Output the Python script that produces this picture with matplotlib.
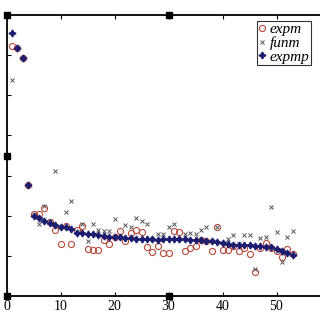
import numpy as np
import matplotlib
matplotlib.use("Agg")
import matplotlib.pyplot as plt

# values (index 1..53)
idx = np.arange(1, 54)

expm = [6.23, 6.17, 5.94, 2.77, 2.05, 2.04, 2.19, 1.85, 1.65, 1.29,
        1.75, 1.29, 1.65, 1.74, 1.18, 1.15, 1.15, 1.40, 1.29, 1.46,
        1.61, 1.36, 1.57, 1.65, 1.59, 1.22, 1.10, 1.25, 1.07, 1.07,
        1.63, 1.60, 1.13, 1.20, 1.25, 1.40, 1.36, 1.11, 1.72, 1.15,
        1.15, 1.25, 1.11, 1.19, 1.04, 0.61, 1.19, 1.32, 1.19, 1.12,
        0.98, 1.16, 1.05]

funm = [5.37, 6.17, 5.94, 2.77, 2.02, 1.79, 2.23, 1.87, 3.12, 1.72,
        2.09, 2.36, 1.60, 1.80, 1.37, 1.80, 1.65, 1.61, 1.61, 1.92,
        1.47, 1.76, 1.71, 1.94, 1.88, 1.79, 1.42, 1.54, 1.54, 1.72,
        1.80, 1.42, 1.54, 1.57, 1.54, 1.65, 1.71, 1.37, 1.72, 1.33,
        1.43, 1.52, 1.29, 1.53, 1.53, 0.67, 1.44, 1.46, 2.21, 1.59,
        0.85, 1.47, 1.63]

expmp = [6.56, 6.17, 5.94, 2.77, 2.00, 1.94, 1.86, 1.83, 1.78, 1.73,
         1.73, 1.68, 1.58, 1.57, 1.55, 1.55, 1.53, 1.50, 1.48, 1.46,
         1.46, 1.45, 1.44, 1.43, 1.42, 1.41, 1.41, 1.40, 1.41, 1.41,
         1.41, 1.41, 1.41, 1.40, 1.40, 1.40, 1.37, 1.36, 1.35, 1.32,
         1.30, 1.28, 1.28, 1.28, 1.27, 1.25, 1.25, 1.23, 1.22, 1.18,
         1.13, 1.08, 1.02]

xticks = [0, 10, 20, 30, 40, 50]

fig = plt.figure(figsize=(3.2, 3.2), dpi=100)
ax = fig.add_axes([6.5 / 320, 24 / 320, 324 / 320, 281 / 320])

ax.plot(idx, expm, linestyle="none", marker="o", markersize=4.4,
        markerfacecolor="none", markeredgecolor="#b5493a", markeredgewidth=0.8,
        label="expm")
ax.plot(idx, funm, linestyle="none", marker="x", markersize=3,
        color="#555555", markeredgewidth=0.7, label="funm")
ax.plot(idx, expmp, linestyle="none", marker=(4, 1, 0), markersize=5,
        color="#1c1c70", label="expmp")

ax.set_xlim(0, 60)
ax.set_ylim(0, 7)
ax.set_xticks(xticks)
ax.set_yticks(range(8))
ax.tick_params(direction="in", length=3, width=0.8, top=True, right=True,
               labelleft=False, pad=3)
for lbl in ax.get_xticklabels():
    lbl.set_fontfamily("Liberation Serif")
    lbl.set_fontsize(10)
for sp in ax.spines.values():
    sp.set_linewidth(1.3)

# selection handles on the axes box
ax.plot([0, 0, 0, 0.5, 0.5], [0, 0.5, 1, 0, 1], linestyle="none", marker="s",
        markersize=4, color="black", transform=ax.transAxes, clip_on=False)

leg = ax.legend(loc="upper left", bbox_to_anchor=(250 / 324, 1 - 6 / 281),
                prop={"family": "Liberation Serif", "style": "italic", "size": 11},
                frameon=True, fancybox=False, edgecolor="black",
                handlelength=0.5, handletextpad=0.25, borderpad=0.1,
                labelspacing=0.0, borderaxespad=0)
leg.get_frame().set_linewidth(0.8)

fig.savefig("out.png", dpi=100)
